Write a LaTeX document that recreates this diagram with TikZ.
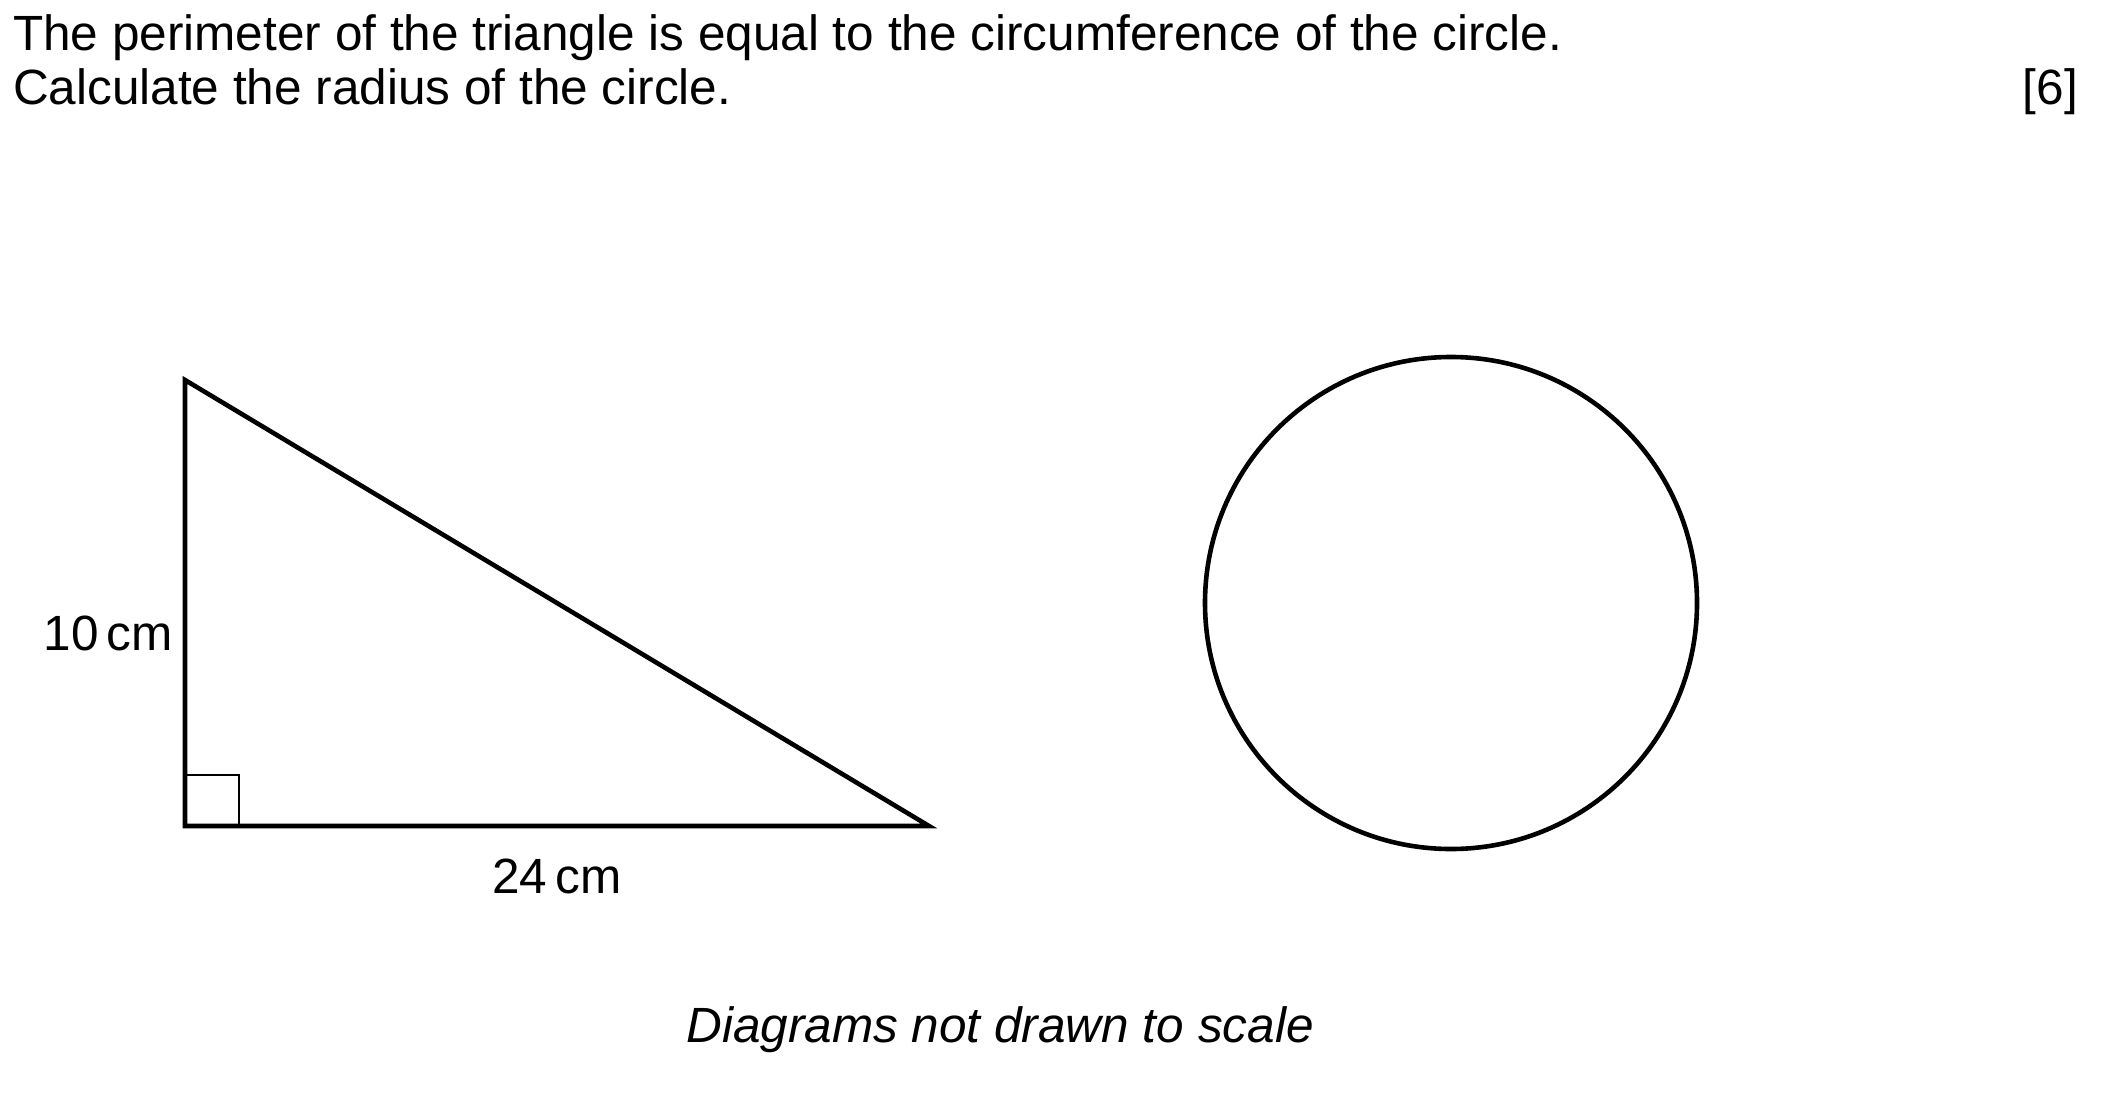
\documentclass[tikz,border=0pt]{standalone}
\usepackage{fontspec}
\setmainfont{Liberation Sans}
\begin{document}
\begin{tikzpicture}[x=1pt,y=-1pt,
  txt/.style={inner sep=0pt,font=\fontsize{49.5}{56}\selectfont},
  outline/.style={line width=4.6pt,line join=miter},
  thinline/.style={line width=1.6pt}]
\useasboundingbox (0,0) rectangle (2109,1108);
% header text
\node[txt,anchor=base west] (q1) at (13,51) {The perimeter of the triangle is equal to the circumference of the circle.};
\node[txt,anchor=base west] (q2) at (13,104) {Calculate the radius of the circle.};
\node[txt,anchor=base east] (mk) at (2078,104) {[6]};
% triangle
\coordinate (A) at (185,380);
\coordinate (B) at (185,826);
\coordinate (C) at (929,826);
\draw[thinline] (185,775) -- (239,775) -- (239,826);
\draw[outline] (A) -- (B) -- (C) -- cycle;
\node[txt,anchor=base east] (l10) at (173,650) {10\,cm};
\node[txt,anchor=base] (l24) at (557,893) {24\,cm};
% circle
\coordinate (O) at (1451,603);
\draw[outline] (O) circle[radius=246];
% caption
\node[txt,anchor=base,font=\fontsize{49.5}{56}\selectfont\itshape] (cap) at (1000,1042) {Diagrams not drawn to scale};
\end{tikzpicture}
\end{document}
